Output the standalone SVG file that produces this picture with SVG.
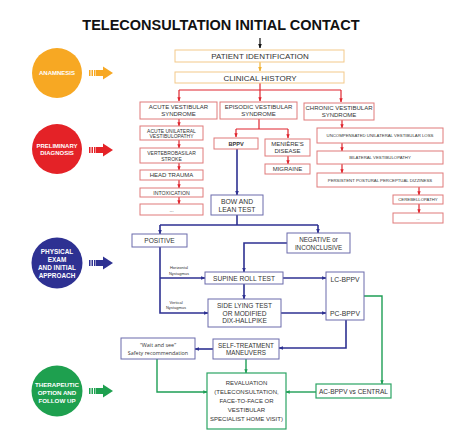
<svg xmlns="http://www.w3.org/2000/svg" width="474" height="448" viewBox="0 0 474 448">
<defs>
<style>
text{font-family:"Liberation Sans",Arial,sans-serif;text-anchor:middle;dominant-baseline:central;fill:#333}
.title{font-size:14.5px;font-weight:bold;fill:#111}
.ct{font-size:6px;font-weight:bold;fill:#fff}
.bx{fill:#fff}
.rb{fill:#fff;stroke:#e07a7a;stroke-width:1}
.bb{fill:#fff;stroke:#6b6bab;stroke-width:1}
.gb{fill:#fff;stroke:#2aa463;stroke-width:1.2}
.yb{fill:#fff;stroke:#f3c98a;stroke-width:1}
.r6{font-size:6px}
.r4{font-size:4.3px}
.b7{font-size:6.8px}
.sm{font-size:4px}
.os{font-family:"Open Sans","Liberation Sans",sans-serif;font-size:5.4px}
.rc{fill:none;stroke:#e0252e;stroke-width:1.2}
.bc{fill:none;stroke:#2e3192;stroke-width:1.6}
.gc{fill:none;stroke:#1e9e55;stroke-width:1.4}
</style>
<marker id="ar" viewBox="0 0 10 10" refX="9" refY="5" markerWidth="3.5" markerHeight="3.5" markerUnits="strokeWidth" orient="auto"><path d="M0 1 L10 5 L0 9 Z" fill="#e0252e"/></marker>
<marker id="ab" viewBox="0 0 10 10" refX="9" refY="5" markerWidth="3" markerHeight="3" markerUnits="strokeWidth" orient="auto"><path d="M0 1 L10 5 L0 9 Z" fill="#2e3192"/></marker>
<marker id="ag" viewBox="0 0 10 10" refX="9" refY="5" markerWidth="3" markerHeight="3" markerUnits="strokeWidth" orient="auto"><path d="M0 1 L10 5 L0 9 Z" fill="#1e9e55"/></marker>
<marker id="ay" viewBox="0 0 10 10" refX="9" refY="5" markerWidth="4" markerHeight="4" markerUnits="strokeWidth" orient="auto"><path d="M0 1 L10 5 L0 9 Z" fill="#f2b233"/></marker>
<marker id="ak" viewBox="0 0 10 10" refX="9" refY="5" markerWidth="4" markerHeight="4" markerUnits="strokeWidth" orient="auto"><path d="M0 1 L10 5 L0 9 Z" fill="#111"/></marker>
<g id="fatarrow">
<rect x="0" y="-3" width="1.5" height="6"/>
<rect x="2.5" y="-3" width="1.5" height="6"/>
<rect x="5" y="-3" width="1.5" height="6"/>
<rect x="7" y="-3" width="8" height="6"/>
<path d="M14 -6.5 L24 0 L14 6.5 Z"/>
</g>
</defs>
<rect width="474" height="448" fill="#fff"/>
<text class="title" x="221" y="25">TELECONSULTATION INITIAL CONTACT</text>

<g id="connectors">
<path d="M260 38 V48" stroke="#111" stroke-width="1.2" marker-end="url(#ak)"/>
<path d="M260 62 V71" stroke="#f2b233" stroke-width="1.2" marker-end="url(#ay)"/>
<path class="rc" d="M179 90 H341"/>
<path class="rc" d="M179 90 V101" marker-end="url(#ar)"/>
<path class="rc" d="M260 83 V101" marker-end="url(#ar)"/>
<path class="rc" d="M341 90 V102" marker-end="url(#ar)"/>
<path class="rc" d="M179 119 V126" marker-end="url(#ar)"/>
<path class="rc" d="M179 140 V148" marker-end="url(#ar)"/>
<path class="rc" d="M179 163 V170" marker-end="url(#ar)"/>
<path class="rc" d="M179 180 V188" marker-end="url(#ar)"/>
<path class="rc" d="M179 197 V204" marker-end="url(#ar)"/>
<path class="rc" d="M259 119 V129 M236 129 H288"/>
<path class="rc" d="M236 129 V137" marker-end="url(#ar)"/>
<path class="rc" d="M288 129 V138" marker-end="url(#ar)"/>
<path class="rc" d="M288 156 V164" marker-end="url(#ar)"/>
<path class="rc" d="M342 120 V128" marker-end="url(#ar)"/>
<path class="rc" d="M342 143 V151" marker-end="url(#ar)"/>
<path class="rc" d="M342 164 V173" marker-end="url(#ar)"/>
<path class="rc" d="M419 187 V195" marker-end="url(#ar)"/>
<path class="rc" d="M419 204 V213" marker-end="url(#ar)"/>

<path class="bc" d="M237 149 V195" marker-end="url(#ab)"/>
<path class="bc" d="M237 215 V225 M160 225 H318"/>
<path class="bc" d="M160 225 V234" marker-end="url(#ab)"/>
<path class="bc" d="M318 225 V233" marker-end="url(#ab)"/>
<path class="bc" d="M287 243 H244 V272" marker-end="url(#ab)"/>
<path class="bc" d="M160 247 V313 H208" marker-end="url(#ab)"/>
<path class="bc" d="M160 278 H205" marker-end="url(#ab)"/>
<path class="bc" d="M283 278 H326" marker-end="url(#ab)"/>
<path class="bc" d="M244 284 V299" marker-end="url(#ab)"/>
<path class="bc" d="M281 313 H326" marker-end="url(#ab)"/>
<path class="bc" d="M346 320 V348 H279" marker-end="url(#ab)"/>
<path class="bc" d="M213 349 H195" marker-end="url(#ab)"/>

<path class="gc" d="M364 296 H382 V384" marker-end="url(#ag)"/>
<path class="gc" d="M316 392 H286" marker-end="url(#ag)"/>
<path class="gc" d="M157 359 V392 H207" marker-end="url(#ag)"/>
<path class="gc" d="M246 359 V373" marker-end="url(#ag)"/>
</g>

<g id="anamnesis">
<circle cx="57" cy="73" r="25" fill="#f7a823"/>
<text class="ct" x="57" y="73">ANAMNESIS</text>
<use href="#fatarrow" x="89" y="73" fill="#f7a823"/>
</g>
<g id="preliminary">
<circle cx="57" cy="149" r="25" fill="#e42227"/>
<text class="ct" x="57" y="146">PRELIMINARY</text>
<text class="ct" x="57" y="153">DIAGNOSIS</text>
<use href="#fatarrow" x="89" y="150" fill="#e42227"/>
</g>
<g id="physical">
<circle cx="57" cy="263" r="25.5" fill="#2e3192"/>
<text class="ct" x="57" y="251" style="font-size:6.4px">PHYSICAL</text>
<text class="ct" x="57" y="259" style="font-size:6.4px">EXAM</text>
<text class="ct" x="57" y="267" style="font-size:6.4px">AND INITIAL</text>
<text class="ct" x="57" y="275" style="font-size:6.4px">APPROACH</text>
<use href="#fatarrow" x="89" y="263" fill="#2e3192"/>
</g>
<g id="therapeutic">
<circle cx="57" cy="391" r="25.5" fill="#1ea04f"/>
<text class="ct" x="57" y="384" style="font-size:6.2px">THERAPEUTIC</text>
<text class="ct" x="57" y="392" style="font-size:6.2px">OPTION AND</text>
<text class="ct" x="57" y="400" style="font-size:6.2px">FOLLOW UP</text>
<use href="#fatarrow" x="89" y="391" fill="#1ea04f"/>
</g>

<g id="patient-id">
<rect class="yb" x="175" y="50" width="169" height="12"/>
<text x="260" y="56.5" style="font-size:8px">PATIENT IDENTIFICATION</text>
</g>
<g id="clinical-history">
<rect class="yb" x="175" y="72" width="169" height="11"/>
<text x="260" y="78" style="font-size:8px">CLINICAL HISTORY</text>
</g>

<g id="acute">
<rect class="rb" x="140" y="102" width="77" height="17"/>
<text class="r6" x="178.5" y="107">ACUTE VESTIBULAR</text>
<text class="r6" x="178.5" y="114">SYNDROME</text>
</g>
<g id="episodic">
<rect class="rb" x="220" y="102" width="77" height="17"/>
<text class="r6" x="258.5" y="107">EPISODIC VESTIBULAR</text>
<text class="r6" x="258.5" y="114">SYNDROME</text>
</g>
<g id="chronic">
<rect class="rb" x="304" y="103" width="70" height="17"/>
<text class="r6" x="339" y="108">CHRONIC VESTIBULAR</text>
<text class="r6" x="339" y="115">SYNDROME</text>
</g>

<g id="aub">
<rect class="rb" x="140" y="126" width="63" height="14"/>
<text x="171.5" y="130.5" style="font-size:5px">ACUTE UNILATERAL</text>
<text x="171.5" y="136" style="font-size:5px">VESTIBULOPATHY</text>
</g>
<g id="vbs">
<rect class="rb" x="140" y="148" width="63" height="15"/>
<text x="171.5" y="153" style="font-size:5px">VERTEBROBASILAR</text>
<text x="171.5" y="158.5" style="font-size:5px">STROKE</text>
</g>
<g id="head-trauma">
<rect class="rb" x="140" y="170" width="63" height="10"/>
<text class="r6" x="171.5" y="175">HEAD TRAUMA</text>
</g>
<g id="intoxication">
<rect class="rb" x="140" y="188" width="63" height="9"/>
<text x="171.5" y="192.5" style="font-size:5.2px">INTOXICATION</text>
</g>
<g id="acute-more">
<rect class="rb" x="140" y="204" width="63" height="11"/>
<text x="171.5" y="209.5" style="font-size:5px">...</text>
</g>

<g id="bppv">
<rect class="rb" x="214" y="138" width="44" height="11"/>
<text x="236" y="143.5" style="font-size:5.6px;font-weight:bold">BPPV</text>
</g>
<g id="meniere">
<rect class="rb" x="265" y="139" width="45" height="17"/>
<text class="r6" x="287.5" y="144">MENIÈRE'S</text>
<text class="r6" x="287.5" y="151">DISEASE</text>
</g>
<g id="migraine">
<rect class="rb" x="265" y="164" width="45" height="10"/>
<text class="r6" x="287.5" y="169">MIGRAINE</text>
</g>

<g id="uvl">
<rect class="rb" x="317" y="128" width="126" height="15"/>
<text class="r4" x="380" y="135.5">UNCOMPENSATED UNILATERAL VESTIBULAR LOSS</text>
</g>
<g id="bvp">
<rect class="rb" x="317" y="151" width="126" height="13"/>
<text class="r4" x="380" y="157.5">BILATERAL VESTIBULOPATHY</text>
</g>
<g id="pppd">
<rect class="rb" x="317" y="173" width="126" height="14"/>
<text class="r4" x="380" y="180">PERSISTENT POSTURAL PERCEPTUAL DIZZINESS</text>
</g>
<g id="cerebellopathy">
<rect class="rb" x="393" y="195" width="50" height="9"/>
<text class="r4" x="418" y="199.5">CEREBELLOPATHY</text>
</g>
<g id="chronic-more">
<rect class="rb" x="393" y="213" width="50" height="10"/>
<text class="r4" x="418" y="218">...</text>
</g>

<g id="bow-lean">
<rect class="bb" x="211" y="195" width="52" height="20"/>
<text class="b7" x="237" y="201">BOW AND</text>
<text class="b7" x="237" y="209.5">LEAN TEST</text>
</g>
<g id="positive">
<rect class="bb" x="132" y="234" width="55" height="13"/>
<text x="159.5" y="240.5" style="font-size:6.6px">POSITIVE</text>
</g>
<g id="negative">
<rect class="bb" x="287" y="233" width="63" height="20"/>
<text x="318.5" y="239.5" style="font-size:6.3px">NEGATIVE or</text>
<text x="318.5" y="247" style="font-size:6.3px">INCONCLUSIVE</text>
</g>
<text class="sm" x="179" y="267.5">Horizontal</text>
<text class="sm" x="179" y="273">Nystagmus</text>
<text class="sm" x="176" y="302">Vertical</text>
<text class="sm" x="176" y="307.5">Nystagmus</text>
<g id="supine">
<rect class="bb" x="205" y="272" width="78" height="12"/>
<text x="244" y="278" style="font-size:6.6px">SUPINE ROLL TEST</text>
</g>
<g id="side-lying">
<rect class="bb" x="208" y="299" width="73" height="28"/>
<text x="244.5" y="305.5" style="font-size:6.6px">SIDE LYING TEST</text>
<text x="244.5" y="313" style="font-size:6.6px">OR MODIFIED</text>
<text x="244.5" y="320.5" style="font-size:6.6px">DIX-HALLPIKE</text>
</g>
<g id="lc-pc">
<rect class="bb" x="326" y="272" width="38" height="48"/>
<text class="b7" x="345" y="279.5">LC-BPPV</text>
<text class="b7" x="345" y="313.5">PC-BPPV</text>
</g>
<g id="self-treatment">
<rect class="bb" x="213" y="339" width="66" height="20"/>
<text x="246" y="345" style="font-size:6.3px">SELF-TREATMENT</text>
<text x="246" y="352.5" style="font-size:6.3px">MANEUVERS</text>
</g>
<g id="wait-see">
<rect class="bb" x="121" y="338" width="74" height="21"/>
<text class="os" x="158" y="344.5">“Wait and see”</text>
<text class="os" x="158" y="353">Safety recommendation</text>
</g>
<g id="revaluation">
<rect class="gb" x="207" y="373" width="79" height="56"/>
<text x="246.5" y="383" style="font-size:6px">REVALUATION</text>
<text x="246.5" y="392" style="font-size:6px">(TELECONSULTATION,</text>
<text x="246.5" y="401" style="font-size:6px">FACE-TO-FACE OR</text>
<text x="246.5" y="410" style="font-size:6px">VESTIBULAR</text>
<text x="246.5" y="419" style="font-size:6px">SPECIALIST HOME VISIT)</text>
</g>
<g id="ac-central">
<rect class="gb" x="316" y="384" width="75" height="14"/>
<text x="353.5" y="391" style="font-size:6.5px">AC-BPPV vs CENTRAL</text>
</g>
</svg>
